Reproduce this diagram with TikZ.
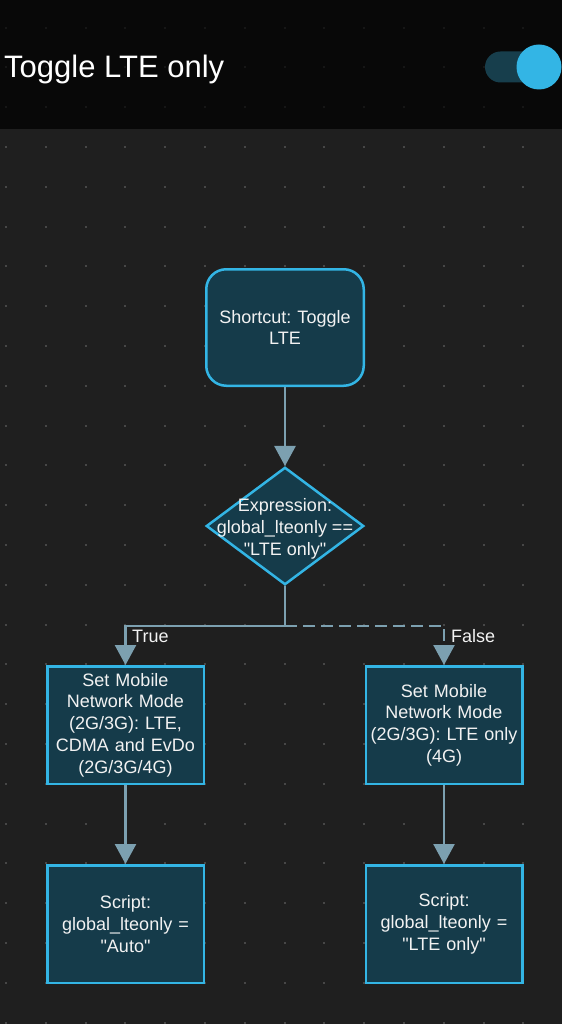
\documentclass[tikz,border=0pt]{standalone}
\usepackage{fontspec}
\setmainfont{Liberation Sans}
\usetikzlibrary{positioning,shapes.geometric,arrows.meta}
\frenchspacing
\definecolor{hdrcol}{HTML}{080808}
\definecolor{bgcol}{HTML}{1F1F1F}
\definecolor{dotcol}{HTML}{474747}
\definecolor{hdrdot}{HTML}{161616}
\definecolor{boxfill}{HTML}{153B4A}
\definecolor{boxline}{HTML}{33B5E5}
\definecolor{trackcol}{HTML}{173E4C}
\definecolor{flowcol}{HTML}{7CA0B0}
\definecolor{txtcol}{HTML}{F2F2F2}
\newcommand{\dq}{\textquotedbl}
\tikzset{
  block/.style={draw=boxline,fill=boxfill,line width=2.5pt,minimum width=156.5pt,minimum height=117.5pt,
    text width=150pt,inner sep=0pt,align=center,text=txtcol,font=\fontsize{18}{21.7}\selectfont},
  startbox/.style={block,rounded corners=20pt,minimum width=157.5pt,minimum height=116.5pt},
  condbox/.style={diamond,draw=boxline,fill=boxfill,line width=2.5pt,minimum width=157.5pt,minimum height=117.5pt,inner sep=0pt},
  condtxt/.style={align=center,text=txtcol,font=\fontsize{18}{21.7}\selectfont,inner sep=0pt,yshift=-3pt},
  flow/.style={draw=flowcol,line width=2.5pt,-{Triangle[width=21pt,length=20pt]}},
  lbl/.style={text=txtcol,font=\fontsize{18}{21.7}\selectfont,inner sep=0pt}
}
\begin{document}
\begin{tikzpicture}[x=1pt,y=-1pt]
\useasboundingbox (0,0) rectangle (562,1024);
% background
\fill[hdrcol] (0,0) rectangle (562,129);
\fill[bgcol] (0,129) rectangle (562,1024);
\foreach \i in {0,...,13}{
  \foreach \j in {-3,...,-1} \fill[hdrdot] (6+39.8*\i-1,147+39.8*\j-1) rectangle ++(2,2); % header dots
  \foreach \j in {0,...,22} \fill[dotcol] (6+39.8*\i-1,147+39.8*\j-1) rectangle ++(2,2); % grid dots
}
% header
\node[anchor=base west,inner sep=0pt,text=white,font=\fontsize{31}{37}\selectfont] (title) at (4,78) {Toggle LTE only};
\fill[trackcol,rounded corners=15.5pt] (485,51.5) rectangle (540,82.5); % toggle track
\fill[boxline] (539,67) circle (22.5pt); % toggle knob
% flow
\node[startbox] (start) at (285,327.5) {Shortcut: Toggle\\LTE};
\node[condbox,below=79pt of start,label={[condtxt]center:{Expression:\\global\_lteonly ==\\\dq LTE only\dq}}] (expr) {};
\node[block] (modeA) at (125.5,725) {Set Mobile\\Network Mode\\(2G/3G): LTE,\\CDMA and EvDo\\(2G/3G/4G)};
\node[block] (modeB) at (444,725) {Set Mobile\\Network Mode\\(2G/3G): LTE only\\(4G)};
\node[block,below=79pt of modeA] (scriptA) {Script:\\global\_lteonly =\\\dq Auto\dq};
\node[block,below=79pt of modeB] (scriptB) {Script:\\global\_lteonly =\\\dq LTE only\dq};
% connectors
\draw[flow] (start) -- (expr);
\draw[flow] (expr.south) -- ++(0,40) coordinate (split) -| (modeA.north);
\draw[flow,dash pattern=on 12pt off 6pt] (split) -| (modeB.north);
\draw[flow] (modeA) -- (scriptA);
\draw[flow] (modeB) -- (scriptB);
% labels
\node[lbl,anchor=base west] (truelbl) at (132,642) {True};
\node[lbl,anchor=base west] (falselbl) at (451,642) {False};
\end{tikzpicture}
\end{document}
